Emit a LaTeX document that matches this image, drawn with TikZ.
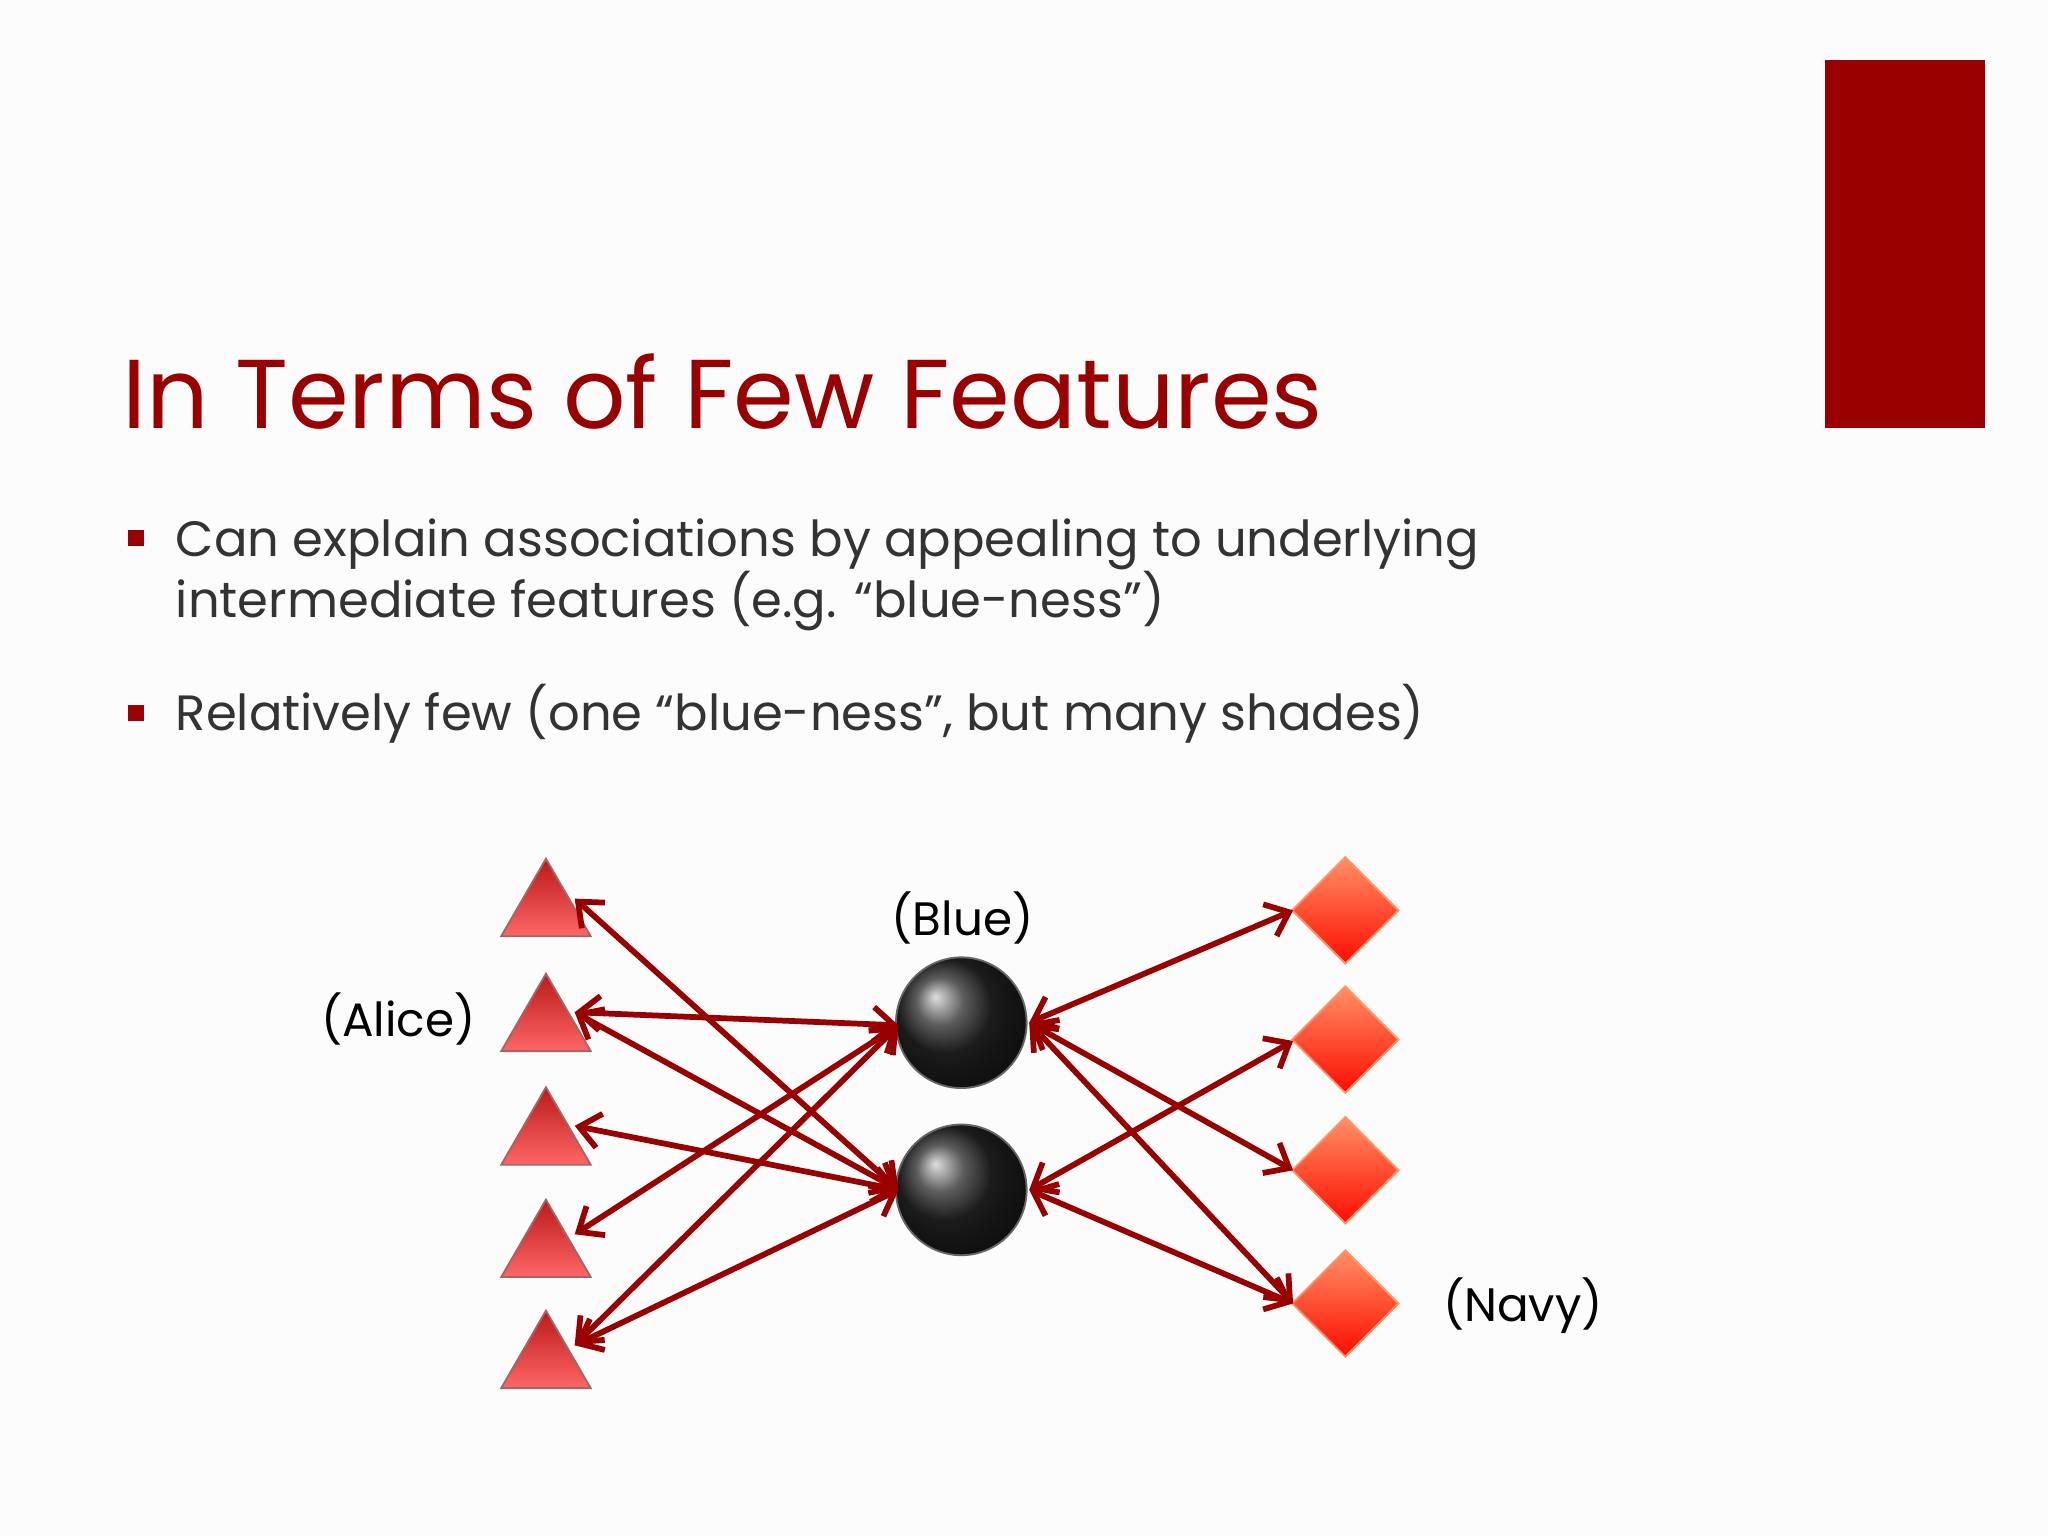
\documentclass[tikz,border=0pt]{standalone}
\usepackage{fontspec}
\setmainfont{Poppins}
\usetikzlibrary{arrows.meta,shapes.geometric}
\definecolor{dred}{HTML}{990000}
\definecolor{txt}{HTML}{333333}
\tikzset{
 link/.style={draw=dred,line width=1.25pt,{Straight Barb[length=4.5pt,width=7.5pt]}-{Straight Barb[length=4.5pt,width=7.5pt]}},
 tri/.style={regular polygon,regular polygon sides=3,minimum size=0.79cm,inner sep=0pt,top color=red!70!black!90,bottom color=red!60!white,draw=red!40!black!60,line width=0.4pt},
 feat/.style={circle,minimum size=1cm,inner sep=0pt,ball color=black!85,draw=black!60},
 dia/.style={diamond,minimum size=0.82cm,inner sep=0pt,top color=red!45!orange!60,bottom color=red!90!orange,draw=orange!60!red!60},
 lab/.style={font=\fontsize{10.2}{12}\selectfont,text=black}
}
\begin{document}
\begin{tikzpicture}[x=0.01cm,y=-0.01cm]
\fill[white!99!black] (0,0) rectangle (1568,1176);
\fill[dred] (1397,46) rectangle (1520,328);
\node[anchor=base west,inner sep=0,text=dred,font=\fontsize{21.3}{26}\selectfont] (title) at (93,328) {In Terms of Few Features};
\fill[dred] (98,406) rectangle (110,418);
\fill[dred] (98,540) rectangle (110,552);
\node[anchor=base west,inner sep=0,text=txt,font=\fontsize{10.8}{14}\selectfont,align=left] (b1) at (134,426) {Can explain associations by appealing to underlying};
\node[anchor=base west,inner sep=0,text=txt,font=\fontsize{10.8}{14}\selectfont] (b1b) at (134,473) {intermediate features (e.g. “blue-ness”)};
\node[anchor=base west,inner sep=0,text=txt,font=\fontsize{10.8}{14}\selectfont] (b2) at (134,559) {Relatively few (one “blue-ness”, but many shades)};
\foreach \i/\y in {1/697,2/785,3/872,4/958,5/1043}{\node[tri] (t\i) at (418,\y) {};}
\node[feat] (c1) at (736,783) {};
\node[feat] (c2) at (736,911) {};
\foreach \i/\y in {1/697,2/796,3/896,4/998}{\node[dia] (d\i) at (1030,\y) {};}
\node[lab] (blue) at (737,703) {(Blue)};
\node[lab] (alice) at (305,780) {(Alice)};
\node[lab] (navy) at (1166,1000) {(Navy)};
\coordinate (t1e) at (440,688); \coordinate (t2e) at (440,775); \coordinate (t3e) at (440,862);
\coordinate (t4e) at (440,945); \coordinate (t5e) at (440,1030);
\coordinate (c1l) at (688,785); \coordinate (c2l) at (688,911);
\coordinate (c1r) at (788,783); \coordinate (c2r) at (788,911);
\coordinate (d1e) at (990,697); \coordinate (d2e) at (990,797); \coordinate (d3e) at (990,896); \coordinate (d4e) at (990,998);
\draw[link] (t1e) -- (c2l);
\draw[link] (t2e) -- (c1l);
\draw[link] (t2e) -- (c2l);
\draw[link] (t3e) -- (c2l);
\draw[link] (t4e) -- (c1l);
\draw[link] (t5e) -- (c1l);
\draw[link] (t5e) -- (c2l);
\draw[link] (c1r) -- (d1e);
\draw[link] (c1r) -- (d3e);
\draw[link] (c1r) -- (d4e);
\draw[link] (c2r) -- (d2e);
\draw[link] (c2r) -- (d4e);
\end{tikzpicture}
\end{document}
